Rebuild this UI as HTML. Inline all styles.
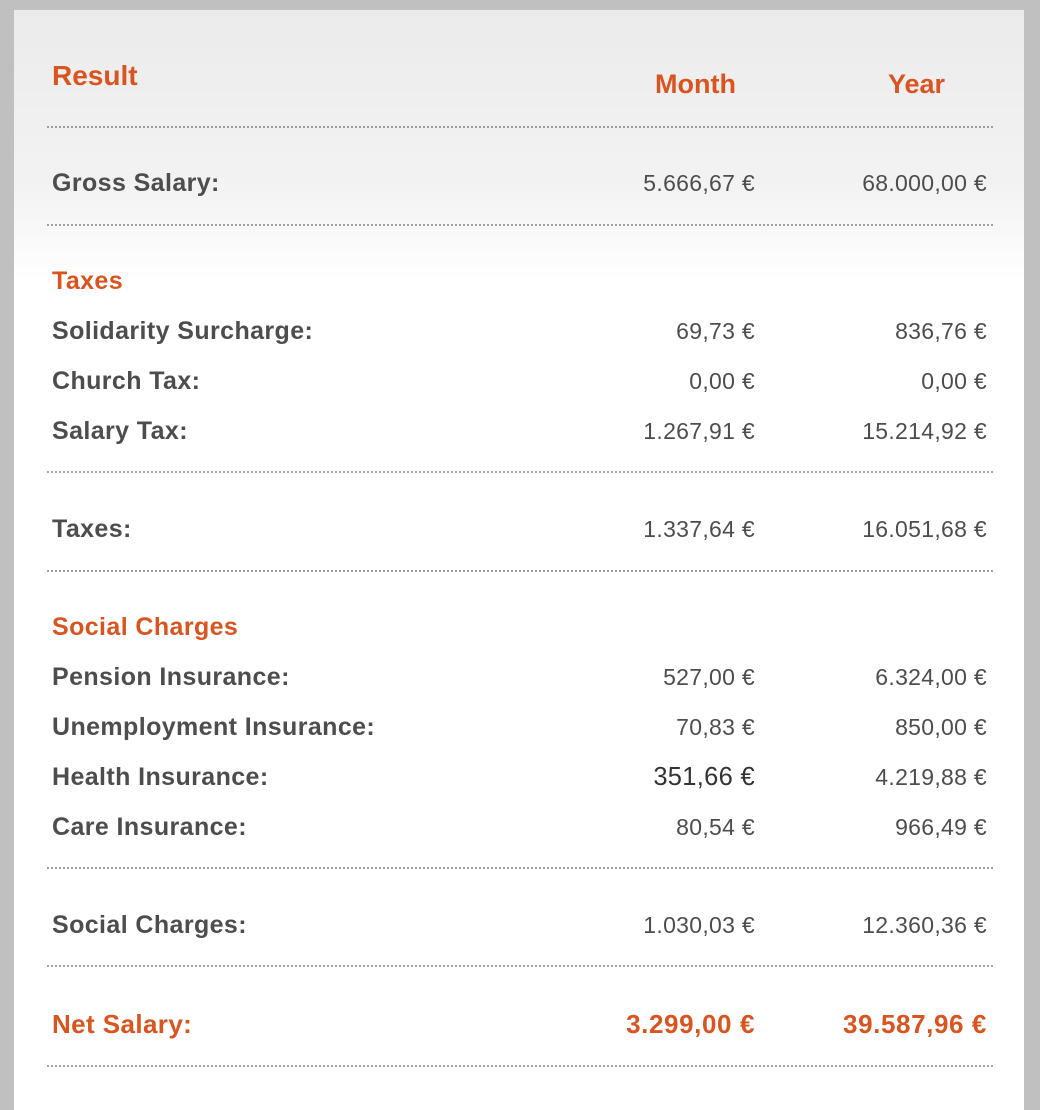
<!DOCTYPE html>
<html><head><meta charset="utf-8"><style>
html,body{margin:0;padding:0;width:1040px;height:1098px;background:#c0c0c0;overflow:hidden;font-family:"Liberation Sans",Arial,sans-serif}
.card{position:absolute;left:14px;top:10px;width:1010px;height:1100px;background:linear-gradient(#ebebeb 0px,#f3f3f3 180px,#fff 270px,#fff)}
.t{position:absolute;line-height:30px;height:30px;white-space:nowrap}
.l{left:52px;font-weight:bold;font-size:25px;letter-spacing:0.4px;color:#4d4d4d}
.m{right:285px;font-size:23px;letter-spacing:0.3px;color:#4d4d4d}
.y{right:53px;font-size:23px;letter-spacing:0.3px;color:#4d4d4d}
.o{color:#d9541e !important}
.b{font-weight:bold}
.d{position:absolute;left:46px;width:947px;height:2px;background-image:radial-gradient(circle,#888 0.9px,transparent 1.1px);background-size:4px 2px}
</style></head><body>
<div class="card"></div>
<div class="t l o" style="top:61px;font-size:28px;letter-spacing:0">Result</div>
<div class="t o b" style="top:69px;left:655px;font-size:27px">Month</div>
<div class="t o b" style="top:69px;left:888px;font-size:27px">Year</div>
<div class="d" style="top:126px"></div>
<div class="t l" style="top:168px">Gross Salary:</div><div class="t m" style="top:168px">5.666,67 €</div><div class="t y" style="top:168px">68.000,00 €</div>
<div class="d" style="top:224px"></div>
<div class="t l o" style="top:266px">Taxes</div>
<div class="t l" style="top:316px">Solidarity Surcharge:</div><div class="t m" style="top:316px">69,73 €</div><div class="t y" style="top:316px">836,76 €</div>
<div class="t l" style="top:366px">Church Tax:</div><div class="t m" style="top:366px">0,00 €</div><div class="t y" style="top:366px">0,00 €</div>
<div class="t l" style="top:416px">Salary Tax:</div><div class="t m" style="top:416px">1.267,91 €</div><div class="t y" style="top:416px">15.214,92 €</div>
<div class="d" style="top:471px"></div>
<div class="t l" style="top:514px">Taxes:</div><div class="t m" style="top:514px">1.337,64 €</div><div class="t y" style="top:514px">16.051,68 €</div>
<div class="d" style="top:570px"></div>
<div class="t l o" style="top:612px">Social Charges</div>
<div class="t l" style="top:662px">Pension Insurance:</div><div class="t m" style="top:662px">527,00 €</div><div class="t y" style="top:662px">6.324,00 €</div>
<div class="t l" style="top:712px">Unemployment Insurance:</div><div class="t m" style="top:712px">70,83 €</div><div class="t y" style="top:712px">850,00 €</div>
<div class="t l" style="top:762px">Health Insurance:</div><div class="t m" style="top:762px;font-size:25.5px;color:#333">351,66 €</div><div class="t y" style="top:762px">4.219,88 €</div>
<div class="t l" style="top:812px">Care Insurance:</div><div class="t m" style="top:812px">80,54 €</div><div class="t y" style="top:812px">966,49 €</div>
<div class="d" style="top:867px"></div>
<div class="t l" style="top:910px">Social Charges:</div><div class="t m" style="top:910px">1.030,03 €</div><div class="t y" style="top:910px">12.360,36 €</div>
<div class="d" style="top:965px"></div>
<div class="t l o" style="top:1009px;font-size:26px">Net Salary:</div><div class="t m o b" style="top:1009px;font-size:26px;letter-spacing:0.6px">3.299,00 €</div><div class="t y o b" style="top:1009px;font-size:26px;letter-spacing:0.6px">39.587,96 €</div>
<div class="d" style="top:1065px"></div>
</body></html>
